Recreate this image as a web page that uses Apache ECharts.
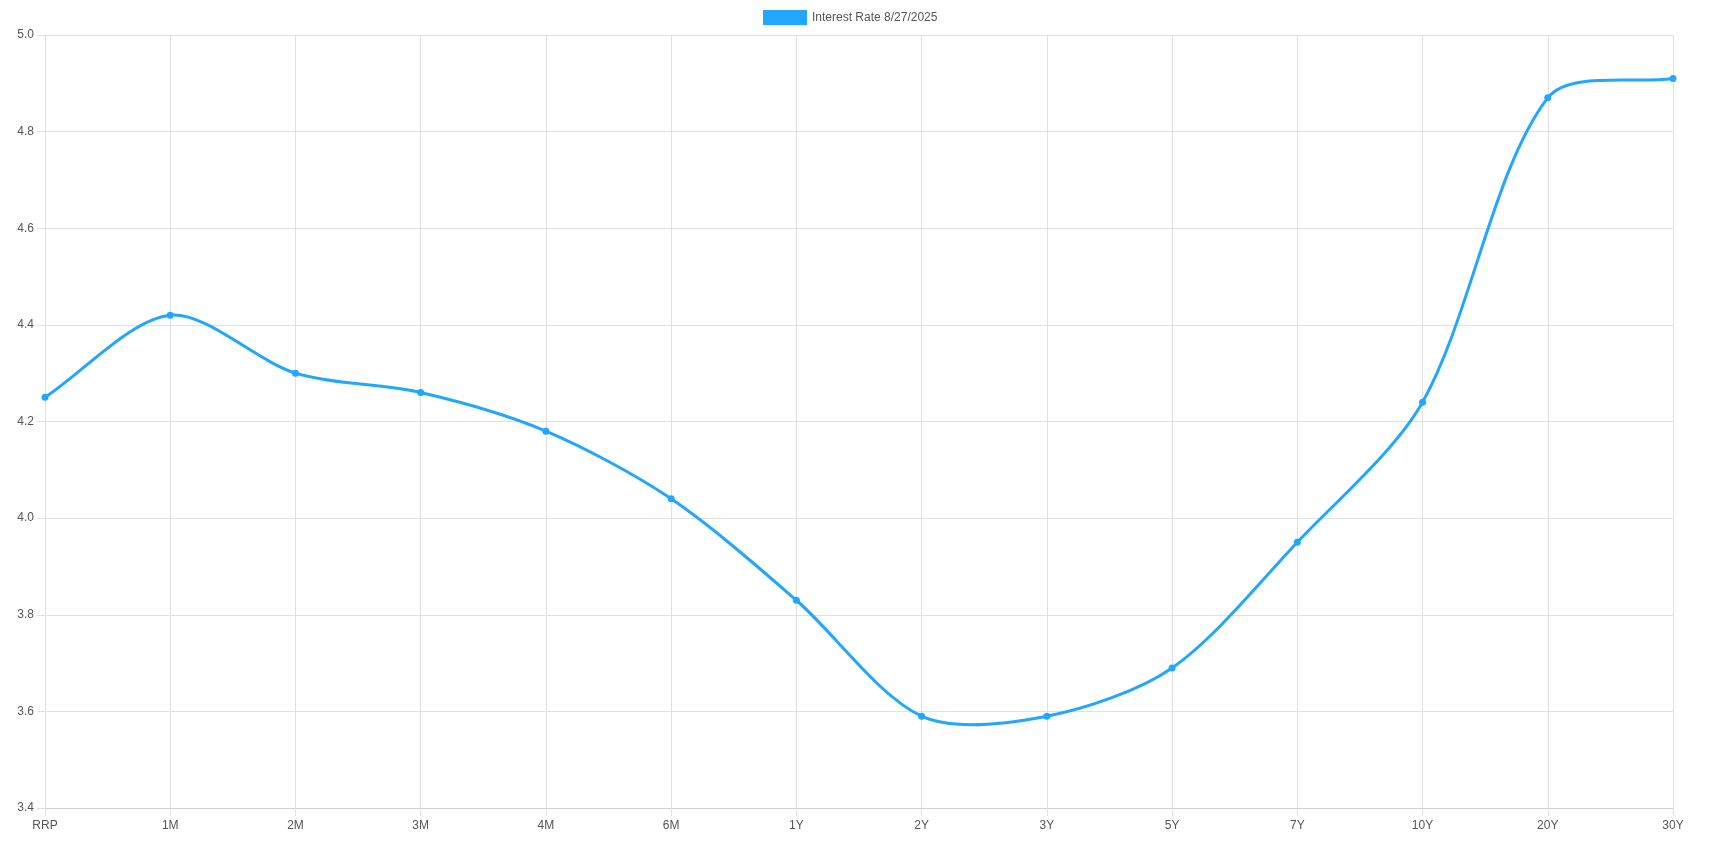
<!DOCTYPE html>
<html><head><meta charset="utf-8">
<script src="https://cdn.jsdelivr.net/npm/echarts@6/dist/echarts.min.js"></script>
<style>html,body{margin:0;padding:0;background:#fff}#c{width:1714px;height:850px}</style>
</head><body><div id="c"></div>
<script>
const categories = ['RRP','1M','2M','3M','4M','6M','1Y','2Y','3Y','5Y','7Y','10Y','20Y','30Y'];
const rates = [4.25,4.42,4.30,4.26,4.18,4.04,3.83,3.59,3.59,3.69,3.95,4.24,4.87,4.91];
const seriesName = 'Interest Rate 8/27/2025';
const yMin = 3.4, yMax = 5.0, yStep = 0.2;

const lineColor = '#22a7ff';
const gridColor = '#e1e1e1';
const textColor = '#555';
const font = 'Liberation Sans, Arial, sans-serif';
const tension = 0.3;

// Cardinal-style spline through points placed by the axes
function renderCurve(params, api) {
  if (params.dataIndex !== 0) return null;
  const pts = rates.map((v, i) => api.coord([i, v]));
  const cs = params.coordSys;
  const t = tension;
  const n = pts.length;
  const clampY = y => Math.min(Math.max(y, cs.y), cs.y + cs.height);
  const clampX = x => Math.min(Math.max(x, cs.x), cs.x + cs.width);
  const cp = pts.map((p, i) => {
    const p0 = pts[Math.max(0, i - 1)], p2 = pts[Math.min(n - 1, i + 1)];
    const d01 = Math.hypot(p[0] - p0[0], p[1] - p0[1]);
    const d12 = Math.hypot(p2[0] - p[0], p2[1] - p[1]);
    let s01 = d01 / (d01 + d12), s12 = d12 / (d01 + d12);
    if (isNaN(s01)) s01 = 0; if (isNaN(s12)) s12 = 0;
    const fa = t * s01, fb = t * s12;
    return {
      prev: [clampX(p[0] - fa * (p2[0] - p0[0])), clampY(p[1] - fa * (p2[1] - p0[1]))],
      next: [clampX(p[0] + fb * (p2[0] - p0[0])), clampY(p[1] + fb * (p2[1] - p0[1]))]
    };
  });
  let d = 'M' + pts[0][0] + ' ' + pts[0][1];
  for (let i = 1; i < n; i++) {
    const a = cp[i - 1].next, b = cp[i].prev, p = pts[i];
    d += ' C' + a[0] + ' ' + a[1] + ' ' + b[0] + ' ' + b[1] + ' ' + p[0] + ' ' + p[1];
  }
  return {type: 'path', shape: {pathData: d}, style: {stroke: lineColor, fill: 'none', lineWidth: 3}};
}

const chart = echarts.init(document.getElementById('c'));
chart.setOption({
  animation: false,
  textStyle: {fontFamily: font},
  legend: {
    top: 10, left: 763, padding: 0, icon: 'rect', itemWidth: 44, itemHeight: 15, itemGap: 10,
    textStyle: {fontFamily: font, fontSize: 12, color: textColor},
    data: [seriesName]
  },
  grid: {left: 45, right: 41, top: 35, bottom: 42, containLabel: false},
  xAxis: {
    type: 'category', data: categories, boundaryGap: false,
    axisLine: {show: true, lineStyle: {color: '#cfcfcf', width: 1}},
    axisTick: {show: true, length: 8, interval: 0, lineStyle: {color: gridColor}},
    axisLabel: {interval: 0, margin: 12, fontFamily: font, fontSize: 12, color: textColor},
    splitLine: {show: true, interval: 0, lineStyle: {color: gridColor, width: 1}}
  },
  yAxis: {
    type: 'value', min: yMin, max: yMax, interval: yStep,
    axisLine: {show: true, lineStyle: {color: gridColor}},
    axisTick: {show: true, length: 8, lineStyle: {color: gridColor}},
    axisLabel: {margin: 11, fontFamily: font, fontSize: 12, color: textColor, formatter: v => v.toFixed(1)},
    splitLine: {show: true, lineStyle: {color: gridColor, width: 1}}
  },
  series: [
    {
      type: 'custom', name: 'curve', renderItem: renderCurve, z: 2,
      data: [[0, rates[0]]], silent: true
    },
    {
      name: seriesName, type: 'line', data: rates, z: 3,
      symbol: 'circle', symbolSize: 7, showSymbol: true,
      lineStyle: {width: 0, opacity: 0},
      itemStyle: {color: lineColor}
    }
  ]
});
</script></body></html>
